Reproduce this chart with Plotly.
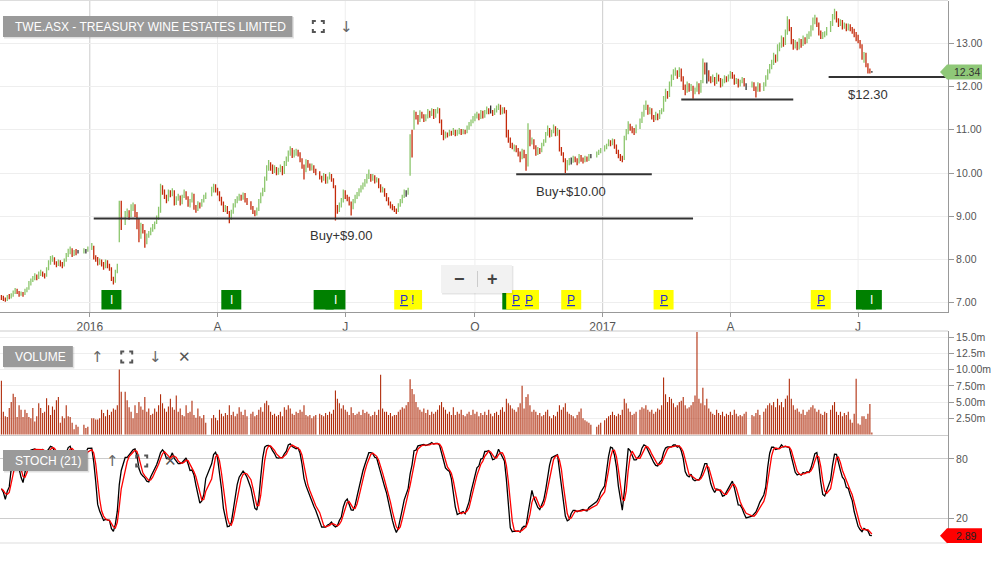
import pandas as pd
import numpy as np
import plotly.graph_objects as go

# ---------------- data ----------------
first_session = "2015-10-30"
last_session = "2017-07-12"
asx_holidays = ["2015-12-25", "2015-12-28", "2016-01-01", "2016-01-26", "2016-03-25", "2016-03-28",
                "2016-04-25", "2016-06-13", "2016-12-26", "2016-12-27", "2017-01-02", "2017-01-26",
                "2017-04-14", "2017-04-17", "2017-04-25", "2017-06-12"]

opens = [
    7.14,
    7.12, 7.10, 7.06, 7.14, 7.12,
    7.18, 7.22, 7.30, 7.25, 7.18,
    7.22, 7.20, 7.28, 7.32, 7.45,
    7.50, 7.56, 7.62, 7.58, 7.66,
    7.70, 7.65, 7.62, 7.78, 7.92,
    7.98, 8.02, 7.92, 7.88, 7.95,
    7.90, 7.86, 7.98, 8.10, 8.18,
    8.22, 8.12, 8.18, 8.16,
    8.16, 8.22, 8.22,
    8.25, 8.30, 8.05, 8.00, 7.92,
    7.96, 7.90, 7.82, 7.95, 7.85,
    7.80, 7.55, 7.48, 7.72, 8.42,
    9.30, 8.85, 9.05, 9.10,
    9.00, 9.20, 9.25, 9.05, 8.88,
    8.50, 8.75, 8.66, 8.40, 8.55,
    8.62, 8.70, 8.78, 8.85, 8.95,
    9.12, 9.65, 9.55, 9.45, 9.38,
    9.55, 9.50, 9.58, 9.30, 9.40,
    9.45, 9.30, 9.45, 9.55, 9.42,
    9.28, 9.35, 9.50, 9.20, 9.15,
    9.30, 9.25, 9.35, 9.45,
    9.50, 9.60, 9.70, 9.62,
    9.55, 9.40, 9.30, 9.15, 9.20,
    9.10, 8.95, 9.10, 9.25, 9.35,
    9.40, 9.45, 9.42, 9.50, 9.38,
    9.32, 9.20, 9.10, 9.05,
    9.15, 9.35, 9.50, 9.60, 9.85,
    10.10, 10.20, 10.15, 10.05, 10.10,
    10.00, 10.05, 10.12, 10.00, 10.20,
    10.30, 10.45, 10.55, 10.40, 10.48,
    10.50, 10.45, 10.30, 10.15, 10.05,
    10.25, 10.18, 10.10, 10.15, 10.05,
    10.00, 9.90, 9.85, 9.95,
    9.80, 9.88, 9.95, 9.85, 9.68,
    9.20, 9.15, 9.25, 9.35, 9.55,
    9.45, 9.40, 9.30, 9.20, 9.35,
    9.45, 9.50, 9.60, 9.68, 9.72,
    9.80, 9.90, 9.95, 9.85, 9.92,
    9.82, 9.85, 9.70, 9.60, 9.62,
    9.50, 9.40, 9.30, 9.25, 9.20,
    9.15, 9.12, 9.25, 9.35, 9.45,
    9.55, 9.55, 9.98, 10.90, 11.05,
    11.35, 11.30, 11.20, 11.38, 11.32,
    11.25, 11.30, 11.40, 11.35, 11.45,
    11.30, 11.42, 11.48, 11.20, 10.95,
    10.85, 10.90, 10.88, 10.95, 10.92,
    10.98, 10.90, 10.95, 11.00, 10.92,
    10.98, 10.95, 11.05, 11.12, 11.18,
    11.25, 11.30, 11.35, 11.28, 11.40,
    11.32, 11.40, 11.48, 11.42, 11.42,
    11.38, 11.45, 11.50, 11.55, 11.40,
    11.48, 11.45, 10.95, 10.78, 10.65,
    10.60, 10.62, 10.55, 10.45, 10.35,
    10.50, 10.40, 10.18, 10.95, 10.70,
    10.75, 10.60, 10.45, 10.55, 10.50,
    10.65, 10.72, 10.90, 11.00, 10.88,
    10.95, 11.05, 10.90, 10.98, 10.55,
    10.45, 10.30, 10.10, 10.25, 10.30,
    10.30, 10.35, 10.30, 10.25, 10.38,
    10.32, 10.28, 10.35, 10.30, 10.40,
    10.40, 10.45, 10.50,
    10.55, 10.60, 10.65, 10.72,
    10.68, 10.75, 10.62, 10.50, 10.40,
    10.35, 10.32, 10.80, 10.95, 11.10,
    11.05, 11.00, 10.95, 11.05,
    11.20, 11.35, 11.50, 11.55, 11.40,
    11.48, 11.30, 11.25, 11.35, 11.28,
    11.40, 11.45, 11.70, 11.85, 11.80,
    12.05, 12.20, 12.30, 12.35, 12.25,
    12.40, 12.20, 12.00, 11.90, 12.05,
    11.95, 12.00, 11.85, 11.92, 12.05,
    11.88, 12.10, 12.50, 12.35, 12.35,
    12.20, 12.15, 12.20, 12.10, 12.25,
    12.18, 12.05, 12.12, 12.20, 12.15,
    12.22, 12.30, 12.25, 12.10, 12.15,
    12.05, 12.12, 12.18, 12.05,
    12.05, 12.08, 11.98, 11.92,
    12.05, 11.95, 12.05, 12.20,
    12.35, 12.45, 12.55, 12.70, 12.62,
    12.90, 12.95, 13.10, 13.00, 13.25,
    13.50, 13.35, 13.05, 12.95, 13.00,
    12.90, 13.05, 12.98, 13.10, 13.05,
    13.15, 13.20, 13.35, 13.50, 13.55,
    13.45, 13.25, 13.15, 13.20, 13.22,
    13.30, 13.45, 13.60, 13.70,
    13.55, 13.45, 13.50, 13.38, 13.42,
    13.35, 13.40, 13.35, 13.30, 13.22,
    13.15, 13.05, 12.95, 12.62, 12.75,
    12.50, 12.35, 12.34,
]

highs = [
    7.18,
    7.16, 7.12, 7.18, 7.20, 7.22,
    7.28, 7.34, 7.32, 7.27, 7.26,
    7.25, 7.32, 7.36, 7.50, 7.56,
    7.62, 7.68, 7.65, 7.72, 7.76,
    7.72, 7.68, 7.82, 7.98, 8.08,
    8.10, 8.05, 7.96, 8.00, 7.98,
    7.94, 8.02, 8.15, 8.25, 8.30,
    8.26, 8.22, 8.24, 8.22,
    8.26, 8.24, 8.30,
    8.38, 8.32, 8.10, 8.06, 8.02,
    8.00, 7.94, 8.00, 7.98, 7.90,
    7.82, 7.60, 7.76, 7.90, 9.36,
    9.36, 9.12, 9.18, 9.14,
    9.28, 9.32, 9.28, 9.10, 8.96,
    8.85, 8.82, 8.68, 8.60, 8.66,
    8.74, 8.82, 8.88, 9.02, 9.22,
    9.75, 9.72, 9.62, 9.50, 9.62,
    9.60, 9.65, 9.60, 9.46, 9.52,
    9.48, 9.50, 9.62, 9.58, 9.46,
    9.40, 9.55, 9.52, 9.26, 9.35,
    9.32, 9.40, 9.50, 9.55,
    9.68, 9.75, 9.74, 9.66,
    9.58, 9.45, 9.34, 9.26, 9.24,
    9.12, 9.15, 9.30, 9.40, 9.46,
    9.52, 9.50, 9.55, 9.54, 9.42,
    9.35, 9.24, 9.14, 9.20,
    9.40, 9.55, 9.66, 9.92, 10.18,
    10.30, 10.25, 10.20, 10.18, 10.14,
    10.12, 10.20, 10.16, 10.28, 10.38,
    10.52, 10.62, 10.58, 10.54, 10.56,
    10.54, 10.48, 10.34, 10.20, 10.32,
    10.30, 10.22, 10.22, 10.18, 10.10,
    10.04, 9.94, 10.00, 9.98,
    9.92, 10.02, 9.98, 9.88, 9.72,
    9.26, 9.32, 9.42, 9.62, 9.60,
    9.50, 9.45, 9.34, 9.40, 9.50,
    9.56, 9.65, 9.72, 9.78, 9.86,
    9.98, 10.08, 9.98, 9.98, 9.95,
    9.90, 9.88, 9.74, 9.68, 9.65,
    9.54, 9.44, 9.34, 9.28, 9.24,
    9.18, 9.30, 9.40, 9.50, 9.62,
    9.60, 9.66, 10.90, 11.00, 11.45,
    11.42, 11.34, 11.45, 11.42, 11.36,
    11.36, 11.48, 11.44, 11.50, 11.48,
    11.48, 11.52, 11.50, 11.24, 11.00,
    10.96, 10.94, 11.00, 10.98, 11.04,
    11.00, 11.00, 11.04, 11.02, 11.02,
    11.00, 11.10, 11.18, 11.24, 11.32,
    11.38, 11.42, 11.38, 11.46, 11.44,
    11.46, 11.54, 11.50, 11.56, 11.46,
    11.50, 11.56, 11.60, 11.58, 11.52,
    11.52, 11.46, 11.00, 10.82, 10.70,
    10.66, 10.64, 10.58, 10.50, 10.56,
    10.54, 10.44, 11.15, 11.00, 10.82,
    10.78, 10.64, 10.60, 10.58, 10.70,
    10.78, 10.95, 11.10, 11.04, 11.00,
    11.12, 11.08, 11.04, 11.00, 10.60,
    10.48, 10.34, 10.30, 10.35, 10.36,
    10.40, 10.38, 10.34, 10.44, 10.42,
    10.36, 10.40, 10.38, 10.44, 10.44,
    10.50, 10.54, 10.58,
    10.64, 10.68, 10.78, 10.76,
    10.80, 10.78, 10.66, 10.54, 10.44,
    10.40, 10.86, 11.02, 11.20, 11.14,
    11.08, 11.04, 11.12, 11.26,
    11.42, 11.58, 11.68, 11.58, 11.52,
    11.50, 11.34, 11.42, 11.38, 11.46,
    11.50, 11.78, 11.95, 11.90, 12.12,
    12.28, 12.40, 12.44, 12.38, 12.45,
    12.42, 12.24, 12.05, 12.12, 12.08,
    12.06, 12.02, 11.98, 12.12, 12.08,
    12.15, 12.65, 12.56, 12.56, 12.38,
    12.24, 12.28, 12.22, 12.32, 12.28,
    12.20, 12.18, 12.26, 12.24, 12.28,
    12.36, 12.34, 12.28, 12.20, 12.18,
    12.16, 12.22, 12.20, 12.08,
    12.12, 12.10, 12.00, 12.10,
    12.08, 12.10, 12.26, 12.40,
    12.52, 12.62, 12.78, 12.74, 12.98,
    13.02, 13.18, 13.14, 13.32, 13.63,
    13.56, 13.38, 13.10, 13.08, 13.04,
    13.12, 13.10, 13.18, 13.14, 13.22,
    13.28, 13.42, 13.60, 13.66, 13.60,
    13.48, 13.30, 13.26, 13.28, 13.38,
    13.52, 13.68, 13.80, 13.74,
    13.58, 13.56, 13.54, 13.48, 13.46,
    13.46, 13.44, 13.38, 13.34, 13.26,
    13.20, 13.08, 12.98, 12.80, 12.78,
    12.54, 12.42, 12.36,
]

lows = [
    7.06,
    7.04, 7.02, 7.04, 7.08, 7.10,
    7.14, 7.20, 7.20, 7.14, 7.16,
    7.14, 7.18, 7.24, 7.30, 7.40,
    7.48, 7.52, 7.52, 7.55, 7.62,
    7.60, 7.56, 7.60, 7.75, 7.88,
    7.95, 7.88, 7.82, 7.85, 7.84,
    7.80, 7.84, 7.95, 8.06, 8.12,
    8.06, 8.08, 8.10, 8.14,
    8.14, 8.14, 8.18,
    8.22, 8.00, 7.95, 7.86, 7.88,
    7.84, 7.76, 7.80, 7.80, 7.74,
    7.50, 7.42, 7.46, 7.68, 8.40,
    8.68, 8.80, 8.98, 8.92,
    8.98, 9.12, 8.98, 8.70, 8.40,
    8.48, 8.60, 8.27, 8.35, 8.50,
    8.56, 8.64, 8.70, 8.82, 8.92,
    9.08, 9.50, 9.40, 9.30, 9.35,
    9.44, 9.46, 9.25, 9.26, 9.36,
    9.25, 9.28, 9.42, 9.38, 9.22,
    9.20, 9.32, 9.15, 9.08, 9.12,
    9.18, 9.22, 9.32, 9.40,
    9.46, 9.55, 9.55, 9.48,
    9.35, 9.25, 9.10, 9.10, 9.05,
    8.84, 8.92, 9.06, 9.20, 9.30,
    9.36, 9.36, 9.38, 9.32, 9.26,
    9.15, 9.05, 9.00, 9.02,
    9.12, 9.30, 9.46, 9.56, 9.82,
    10.05, 10.05, 9.98, 10.00, 9.95,
    9.96, 10.02, 9.95, 9.98, 10.16,
    10.26, 10.40, 10.35, 10.36, 10.40,
    10.38, 10.25, 10.10, 9.85, 10.02,
    10.12, 10.05, 10.06, 10.00, 9.95,
    9.85, 9.78, 9.82, 9.75,
    9.76, 9.85, 9.80, 9.65, 8.90,
    9.06, 9.10, 9.20, 9.32, 9.40,
    9.35, 9.25, 9.02, 9.16, 9.30,
    9.40, 9.46, 9.55, 9.62, 9.68,
    9.76, 9.86, 9.80, 9.82, 9.76,
    9.78, 9.65, 9.55, 9.55, 9.45,
    9.35, 9.25, 9.18, 9.14, 9.10,
    9.05, 9.10, 9.22, 9.30, 9.42,
    9.45, 9.50, 9.94, 10.36, 11.00,
    11.24, 11.12, 11.18, 11.26, 11.18,
    11.20, 11.26, 11.28, 11.32, 11.25,
    11.28, 11.38, 11.15, 10.88, 10.76,
    10.80, 10.82, 10.85, 10.86, 10.88,
    10.85, 10.86, 10.90, 10.88, 10.90,
    10.90, 10.92, 11.00, 11.08, 11.15,
    11.20, 11.26, 11.22, 11.25, 11.26,
    11.28, 11.36, 11.36, 11.38, 11.32,
    11.34, 11.40, 11.46, 11.35, 11.36,
    11.38, 10.82, 10.70, 10.58, 10.55,
    10.50, 10.48, 10.38, 10.25, 10.32,
    10.34, 10.05, 10.15, 10.62, 10.66,
    10.55, 10.40, 10.42, 10.44, 10.48,
    10.62, 10.70, 10.86, 10.82, 10.84,
    10.92, 10.85, 10.86, 10.50, 10.40,
    10.25, 10.00, 10.06, 10.18, 10.20,
    10.24, 10.25, 10.18, 10.22, 10.26,
    10.22, 10.25, 10.26, 10.28, 10.34,
    10.36, 10.42, 10.46,
    10.50, 10.55, 10.62, 10.62,
    10.64, 10.56, 10.44, 10.34, 10.28,
    10.25, 10.30, 10.76, 10.90, 10.98,
    10.92, 10.88, 10.92, 11.02,
    11.16, 11.30, 11.46, 11.35, 11.36,
    11.24, 11.18, 11.22, 11.22, 11.25,
    11.36, 11.42, 11.65, 11.72, 11.76,
    12.00, 12.15, 12.25, 12.18, 12.22,
    12.12, 11.92, 11.80, 11.86, 11.88,
    11.90, 11.72, 11.82, 11.88, 11.82,
    11.86, 12.08, 12.28, 12.07, 12.12,
    12.08, 12.10, 12.02, 12.06, 12.12,
    11.98, 12.00, 12.08, 12.10, 12.12,
    12.18, 12.18, 12.04, 12.06, 11.98,
    12.00, 12.08, 12.00, 11.92,
    11.98, 11.90, 11.75, 11.88,
    11.88, 11.90, 12.00, 12.16,
    12.30, 12.40, 12.50, 12.55, 12.58,
    12.82, 12.90, 12.92, 12.96, 13.20,
    13.28, 12.98, 12.85, 12.88, 12.84,
    12.86, 12.90, 12.94, 12.98, 13.00,
    13.10, 13.16, 13.30, 13.44, 13.38,
    13.18, 13.10, 13.10, 13.14, 13.18,
    13.26, 13.40, 13.55, 13.48,
    13.38, 13.40, 13.32, 13.34, 13.28,
    13.30, 13.28, 13.22, 13.14, 13.05,
    13.00, 12.88, 12.62, 12.55, 12.45,
    12.30, 12.30, 12.32,
]

closes = [
    7.12,
    7.10, 7.06, 7.14, 7.12, 7.18,
    7.22, 7.30, 7.25, 7.18, 7.22,
    7.20, 7.28, 7.32, 7.45, 7.50,
    7.56, 7.62, 7.58, 7.66, 7.70,
    7.65, 7.62, 7.78, 7.92, 7.98,
    8.02, 7.92, 7.88, 7.95, 7.90,
    7.86, 7.98, 8.10, 8.18, 8.22,
    8.12, 8.18, 8.15, 8.16,
    8.22, 8.22, 8.25,
    8.30, 8.05, 8.00, 7.92, 7.96,
    7.90, 7.82, 7.95, 7.85, 7.80,
    7.55, 7.48, 7.72, 7.85, 9.10,
    8.85, 9.05, 9.10, 9.00,
    9.20, 9.25, 9.05, 8.80, 8.50,
    8.75, 8.66, 8.40, 8.55, 8.62,
    8.70, 8.78, 8.85, 8.95, 9.15,
    9.65, 9.55, 9.45, 9.38, 9.55,
    9.50, 9.58, 9.30, 9.40, 9.45,
    9.30, 9.45, 9.55, 9.42, 9.28,
    9.35, 9.50, 9.20, 9.15, 9.30,
    9.25, 9.35, 9.45, 9.50,
    9.60, 9.70, 9.62, 9.55,
    9.40, 9.30, 9.15, 9.20, 9.10,
    8.95, 9.10, 9.25, 9.35, 9.40,
    9.45, 9.42, 9.50, 9.38, 9.32,
    9.20, 9.10, 9.05, 9.15,
    9.35, 9.50, 9.60, 9.85, 10.10,
    10.20, 10.15, 10.05, 10.10, 10.00,
    10.05, 10.12, 10.00, 10.20, 10.30,
    10.45, 10.55, 10.40, 10.48, 10.50,
    10.45, 10.30, 10.15, 10.05, 10.25,
    10.18, 10.10, 10.15, 10.05, 10.00,
    9.90, 9.85, 9.95, 9.80,
    9.88, 9.95, 9.85, 9.70, 9.20,
    9.15, 9.25, 9.35, 9.55, 9.45,
    9.40, 9.30, 9.20, 9.35, 9.45,
    9.50, 9.60, 9.68, 9.72, 9.80,
    9.90, 9.95, 9.85, 9.92, 9.82,
    9.85, 9.70, 9.60, 9.62, 9.50,
    9.40, 9.30, 9.25, 9.20, 9.15,
    9.12, 9.25, 9.35, 9.45, 9.55,
    9.55, 9.60, 10.75, 10.55, 11.35,
    11.30, 11.20, 11.38, 11.32, 11.25,
    11.30, 11.40, 11.35, 11.45, 11.30,
    11.42, 11.48, 11.20, 10.95, 10.85,
    10.90, 10.88, 10.95, 10.92, 10.98,
    10.90, 10.95, 11.00, 10.92, 10.98,
    10.95, 11.05, 11.12, 11.18, 11.25,
    11.30, 11.35, 11.28, 11.40, 11.32,
    11.40, 11.48, 11.42, 11.42, 11.38,
    11.45, 11.50, 11.55, 11.40, 11.48,
    11.45, 10.95, 10.78, 10.65, 10.60,
    10.62, 10.55, 10.45, 10.35, 10.50,
    10.40, 10.15, 10.95, 10.70, 10.75,
    10.60, 10.45, 10.55, 10.50, 10.65,
    10.72, 10.90, 11.00, 10.88, 10.95,
    11.05, 10.90, 10.98, 10.55, 10.45,
    10.30, 10.10, 10.25, 10.30, 10.30,
    10.35, 10.30, 10.25, 10.38, 10.32,
    10.28, 10.35, 10.30, 10.40, 10.40,
    10.45, 10.50, 10.55,
    10.60, 10.65, 10.72, 10.68,
    10.75, 10.62, 10.50, 10.40, 10.35,
    10.32, 10.80, 10.95, 11.10, 11.05,
    11.00, 10.95, 11.05, 11.20,
    11.35, 11.50, 11.55, 11.40, 11.48,
    11.30, 11.25, 11.35, 11.28, 11.40,
    11.45, 11.70, 11.85, 11.80, 12.05,
    12.20, 12.30, 12.35, 12.25, 12.40,
    12.20, 12.00, 11.90, 12.05, 11.95,
    12.00, 11.85, 11.92, 12.05, 11.88,
    12.10, 12.50, 12.35, 12.35, 12.20,
    12.15, 12.20, 12.10, 12.25, 12.18,
    12.05, 12.12, 12.20, 12.15, 12.22,
    12.30, 12.25, 12.10, 12.15, 12.05,
    12.12, 12.18, 12.05, 12.05,
    12.08, 11.98, 11.92, 12.05,
    11.95, 12.05, 12.20, 12.35,
    12.45, 12.55, 12.70, 12.62, 12.90,
    12.95, 13.10, 13.00, 13.25, 13.50,
    13.35, 13.05, 12.95, 13.00, 12.90,
    13.05, 12.98, 13.10, 13.05, 13.15,
    13.20, 13.35, 13.50, 13.55, 13.45,
    13.25, 13.15, 13.20, 13.22, 13.30,
    13.45, 13.60, 13.70, 13.55,
    13.45, 13.50, 13.38, 13.42, 13.35,
    13.40, 13.35, 13.30, 13.22, 13.15,
    13.05, 12.95, 12.70, 12.75, 12.50,
    12.35, 12.34, 12.34,
]

volumes_m = [
    8.3,
    3.5, 2.8, 2.7, 4.1, 5.0,
    6.3, 5.8, 2.7, 4.5, 3.8,
    2.7, 3.8, 3.3, 2.7, 2.5,
    4.1, 2.0, 2.8, 4.8, 4.1,
    3.3, 3.5, 5.6, 4.5, 3.0,
    4.3, 3.8, 5.3, 5.8, 1.8,
    2.8, 2.5, 4.5, 2.8, 2.7,
    1.8, 0.8, 1.5, 1.2,
    1.5, 1.0, 1.2,
    2.5, 2.5, 2.3, 2.3, 2.5,
    3.8, 3.3, 2.8, 3.8, 3.0,
    3.5, 4.0, 3.8, 4.5, 10.0,
    6.6, 6.6, 5.3, 4.2,
    3.5, 2.5, 4.5, 3.3, 5.0,
    4.3, 3.8, 5.8, 3.5, 4.0,
    3.0, 3.2, 4.0, 3.5, 4.5,
    6.2, 4.8, 4.0, 3.5, 4.3,
    5.5, 4.2, 3.8, 6.0, 3.5,
    4.0, 3.0, 2.8, 4.5, 3.3,
    3.5, 5.2, 3.0, 2.6, 4.0,
    2.8, 2.5, 3.0, 1.8,
    2.5, 3.0, 2.6, 2.2,
    3.8, 3.2, 2.8, 3.3, 3.0,
    4.5, 3.0, 3.5, 2.8, 3.2,
    4.2, 3.5, 3.0, 3.8, 2.8,
    3.2, 3.5, 2.8, 3.0,
    3.8, 4.2, 3.5, 4.8, 5.2,
    4.5, 3.5, 3.0, 3.2, 2.8,
    3.0, 3.5, 2.8, 4.2, 3.8,
    4.5, 4.0, 3.2, 3.0, 3.5,
    3.3, 3.8, 3.5, 4.5, 3.0,
    2.8, 3.0, 2.5, 2.8, 3.0,
    3.2, 3.0, 2.8, 3.3,
    3.0, 3.5, 3.2, 3.8, 6.8,
    5.5, 4.8, 4.0, 4.5, 3.8,
    3.5, 3.0, 4.2, 3.3, 3.0,
    3.2, 3.5, 3.0, 3.8, 3.3,
    3.5, 3.2, 2.8, 3.0, 3.5,
    3.0, 3.8, 9.2, 4.0, 3.5,
    3.5, 3.0, 3.3, 2.8, 3.0,
    3.0, 3.5, 3.8, 4.2, 4.0,
    4.5, 5.0, 8.5, 7.0, 6.2,
    5.0, 4.2, 3.8, 3.5, 4.0,
    3.3, 3.8, 3.0, 3.5, 3.2,
    3.5, 3.8, 4.5, 5.0, 4.2,
    3.8, 3.2, 3.5, 3.0, 4.2,
    3.0, 3.5, 3.2, 3.8, 3.0,
    2.8, 3.2, 3.5, 3.0, 3.8,
    3.2, 3.5, 2.8, 3.3, 3.0,
    3.5, 3.0, 3.8, 3.2, 2.8,
    3.3, 3.5, 3.0, 3.8, 4.2,
    3.5, 5.5, 4.8, 4.5, 4.0,
    3.8, 3.5, 4.2, 4.8, 7.5,
    4.0, 5.8, 6.2, 4.5, 3.5,
    3.8, 3.5, 3.0, 3.3, 2.8,
    3.0, 3.5, 3.8, 2.8, 2.5,
    3.0, 2.8, 3.5, 4.5, 3.8,
    4.2, 4.8, 3.5, 3.2, 3.0,
    2.8, 2.5, 3.0, 3.5, 4.0,
    2.5, 2.2, 2.0, 1.8, 1.5,
    1.2, 1.5, 1.8,
    2.2, 2.5, 2.8, 3.0,
    3.5, 3.0, 2.8, 3.2, 3.0,
    3.8, 5.5, 4.8, 4.0, 3.5,
    3.0, 3.2, 3.5, 3.8,
    4.2, 4.0, 4.5, 3.8, 3.5,
    3.8, 3.2, 3.5, 4.0, 3.8,
    4.5, 8.8, 6.2, 5.0, 5.8,
    5.5, 4.8, 4.2, 4.5, 5.0,
    5.2, 5.8, 4.5, 4.0, 4.2,
    4.5, 5.0, 6.0, 15.8, 5.5,
    4.8, 7.2, 4.5, 5.5, 4.0,
    3.5, 3.2, 3.0, 3.8, 3.3,
    3.0, 3.5, 2.8, 3.2, 3.0,
    3.5, 3.0, 3.8, 3.2, 2.8,
    3.0, 2.8, 3.2, 3.5,
    3.0, 2.8, 3.3, 3.8,
    3.0, 3.5, 4.0, 4.5,
    4.8, 4.5, 5.0, 4.2, 5.5,
    4.5, 5.0, 4.2, 5.5, 6.0,
    8.6, 5.5, 4.5, 3.8, 4.0,
    3.5, 3.2, 3.8, 3.0, 3.5,
    3.8, 4.2, 4.5, 4.0, 3.5,
    3.8, 3.2, 3.0, 3.5, 3.3,
    3.8, 4.5, 5.0, 3.5,
    3.0, 3.5, 2.8, 3.3, 3.0,
    3.5, 2.3, 1.8, 3.2, 8.6,
    1.7, 1.5, 2.8, 2.8, 2.4,
    3.2, 4.7, 0.3,
]

tick_dates = ["2016-01-01", "2016-04-01", "2016-07-01", "2016-10-03", "2017-01-02", "2017-04-03", "2017-07-03"]
tick_labels = ["2016", "A", "J", "O", "2017", "A", "J"]
year_tick_dates = ["2016-01-01", "2017-01-02"]
price_ticks = [7, 8, 9, 10, 11, 12, 13]
vol_ticks = [2.5, 5.0, 7.5, 10.0, 12.5, 15.0]
vol_tick_labels = ["2.50m", "5.00m", "7.50m", "10.00m", "12.5m", "15.0m"]
stoch_ticks = [20, 80]
stoch_period = 21
stoch_smooth = 3

# drawn support lines and their labels
sr_starts = ["2016-01-05", "2016-11-01", "2017-02-27", "2017-06-12"]
sr_ends = ["2017-03-07", "2017-02-06", "2017-05-17", "2017-09-04 18:00"]
sr_prices = [8.95, 9.97, 11.70, 12.22]
sr_label_dates = ["2016-06-29", "2016-12-09", None, "2017-07-10"]
sr_labels = ["Buy+$9.00", "Buy+$10.00", "", "$12.30"]

# announcement flags
flag_dates = ["2016-01-18", "2016-04-12", "2016-06-16", "2016-06-24", "2016-08-18", "2016-08-12",
              "2016-10-28", "2016-11-01", "2016-11-09 12:00", "2016-12-09", "2017-02-14", "2017-06-06",
              "2017-07-07", "2017-07-12"]
flag_kinds = ["I", "I", "I", "I", "P", "P", "I", "P", "P", "P", "P", "P", "I", "I"]
flag_texts = ["I", "I", "", "I", "!", "P", "", "P", "P", "P", "P", "P", "", "I"]

title_text = "TWE.ASX - TREASURY WINE ESTATES LIMITED"

# ---------------- build frame ----------------
dates = pd.bdate_range(first_session, last_session)
dates = dates[~dates.isin(pd.to_datetime(asx_holidays))]
n = len(dates)
for nm, arr in [("opens", opens), ("highs", highs), ("lows", lows), ("closes", closes), ("volumes", volumes_m)]:
    assert len(arr) == n, f"{nm} has {len(arr)} values, expected {n}"

df = pd.DataFrame({"o": opens, "h": highs, "l": lows, "c": closes, "v": volumes_m}, index=dates)

# slow stochastic (21, 3, 3)
ll = df["l"].rolling(stoch_period, min_periods=1).min()
hh = df["h"].rolling(stoch_period, min_periods=1).max()
raw_k = (100 * (df["c"] - ll) / (hh - ll)).fillna(50)
pct_k = raw_k.rolling(stoch_smooth, min_periods=1).mean()
pct_d = pct_k.rolling(stoch_smooth, min_periods=1).mean()

W, H = 991, 564
PLOT_W = 950.0


def px(x):
    return x / PLOT_W


def py(y):
    return 1 - y / H


X_RANGE = ["2015-10-29 07:00", "2017-09-04 18:00"]
RB = [dict(bounds=["sat", "mon"])]

UP = "#8cc66d"
DN = "#c42a0b"
FLAT = "#333333"
VOLC = "#b02c0b"

fig = go.Figure()

moving = df[df["c"] != df["o"]]
fig.add_trace(go.Ohlc(
    x=moving.index, open=moving["o"], high=moving["h"], low=moving["l"], close=moving["c"],
    increasing=dict(line=dict(color=UP, width=1.3)),
    decreasing=dict(line=dict(color=DN, width=1.3)),
    tickwidth=0.25, xaxis="x", yaxis="y", hoverinfo="skip"))

flat = df[df["c"] == df["o"]]
fx, fy = [], []
for d, r in flat.iterrows():
    fx += [d, d, None]
    fy += [r["l"], r["h"], None]
fig.add_trace(go.Scatter(x=fx, y=fy, mode="lines", line=dict(color=FLAT, width=1.3),
                         xaxis="x", yaxis="y", hoverinfo="skip"))

# volume as thin vertical bars
vx, vy = [], []
for d, v in df["v"].items():
    vx += [d, d, None]
    vy += [0, v, None]
fig.add_trace(go.Scatter(x=vx, y=vy, mode="lines", line=dict(color=VOLC, width=1.1),
                         xaxis="x2", yaxis="y2", hoverinfo="skip"))

fig.add_trace(go.Scatter(x=df.index, y=pct_k, mode="lines", line=dict(color="#000000", width=1.3),
                         xaxis="x3", yaxis="y3", hoverinfo="skip"))
fig.add_trace(go.Scatter(x=df.index, y=pct_d, mode="lines", line=dict(color="#ff0000", width=1.3),
                         xaxis="x3", yaxis="y3", hoverinfo="skip"))

PRICE_DOM = [py(312), py(1)]
VOL_DOM = [py(435.5), py(331)]
STO_DOM = [py(543), py(435.5)]

axis_font = dict(family="Arial, Liberation Sans, sans-serif", size=10.5, color="#555555")
common_y = dict(side="right", showline=True, linecolor="#999999", linewidth=1, ticks="outside",
                ticklen=5, tickcolor="#999999", tickfont=axis_font, zeroline=False, fixedrange=True)

fig.update_layout(
    width=W, height=H, margin=dict(l=0, r=41, t=0, b=0),
    paper_bgcolor="white", plot_bgcolor="white", showlegend=False,
    font=dict(family="Arial, Liberation Sans, sans-serif"),
    xaxis=dict(domain=[0, 1], anchor="y", range=X_RANGE, rangebreaks=RB,
               tickvals=tick_dates, ticktext=tick_labels, showgrid=False,
               showline=True, linecolor="#999999", ticks="outside", ticklen=4, tickcolor="#999999",
               tickfont=dict(family="Arial, Liberation Sans, sans-serif", size=12, color="#555555"),
               rangeslider=dict(visible=False)),
    xaxis2=dict(domain=[0, 1], anchor="y2", range=X_RANGE, rangebreaks=RB, showticklabels=False,
                showgrid=False, showline=False, ticks=""),
    xaxis3=dict(domain=[0, 1], anchor="y3", range=X_RANGE, rangebreaks=RB, showticklabels=False,
                showgrid=False, showline=False, ticks=""),
    yaxis=dict(domain=PRICE_DOM, anchor="x", range=[6.785, 13.98], tickvals=price_ticks,
               tickformat=".2f", showgrid=True, gridcolor="#eeeeee", **common_y),
    yaxis2=dict(domain=VOL_DOM, anchor="x2", range=[-0.15, 15.95], tickvals=vol_ticks,
                ticktext=vol_tick_labels, showgrid=True, gridcolor="#eeeeee", **common_y),
    yaxis3=dict(domain=STO_DOM, anchor="x3", range=[-4.5, 103.5], tickvals=stoch_ticks,
                showgrid=True, gridcolor="#cccccc", **common_y),
)

shapes = []
annotations = []

# vertical grid lines in price panel
for d in tick_dates:
    col = "#cccccc" if d in year_tick_dates else "#eeeeee"
    shapes.append(dict(type="line", xref="x", yref="paper", x0=d, x1=d, y0=PRICE_DOM[0], y1=PRICE_DOM[1],
                       line=dict(color=col, width=1), layer="below"))

# panel separators
for yy, col in [(0.5, "#dddddd"), (331, "#cccccc"), (435.5, "#cccccc"), (543, "#dddddd")]:
    shapes.append(dict(type="line", xref="paper", yref="paper", x0=0, x1=1, y0=py(yy), y1=py(yy),
                       line=dict(color=col, width=1), layer="above"))

# support / resistance lines
for s, e, p, ld, lt in zip(sr_starts, sr_ends, sr_prices, sr_label_dates, sr_labels):
    shapes.append(dict(type="line", xref="x", yref="y", x0=s, x1=e, y0=p, y1=p,
                       line=dict(color="#333333", width=2), layer="above"))
    if lt:
        annotations.append(dict(x=ld, y=p, xref="x", yref="y", text=lt, showarrow=False, yshift=-17,
                                font=dict(size=13, color="#333333"), xanchor="center", yanchor="middle"))

# announcement flags
for d, k, t in zip(flag_dates, flag_kinds, flag_texts):
    fill = "#008000" if k == "I" else "#ffff00"
    shapes.append(dict(type="rect", xref="x", yref="paper", xsizemode="pixel", xanchor=d, x0=-10, x1=10,
                       y0=py(309.5), y1=py(290), fillcolor=fill, line=dict(width=0), layer="above"))
    if t:
        if k == "I":
            txt, colr = t, "#ffffff"
        else:
            txt, colr = ("<u>P</u>" if t == "P" else t), "#1f2fd0"
        annotations.append(dict(x=d, y=py(300), xref="x", yref="paper", text=txt, showarrow=False,
                                font=dict(size=12, color=colr), xanchor="center", yanchor="middle"))

# last price tag
last_close = float(df["c"].iloc[-1])
tag_path = "M-8,0 L-1,7.5 L34,7.5 L34,-7.5 L-1,-7.5 Z"
shapes.append(dict(type="path", xref="paper", yref="y", xsizemode="pixel", ysizemode="pixel",
                   xanchor=1, yanchor=last_close, path=tag_path, fillcolor="#8fc878",
                   line=dict(width=0), layer="above"))
annotations.append(dict(x=1, y=last_close, xref="paper", yref="y", xshift=19, text=f"{last_close:.2f}",
                        showarrow=False, font=dict(size=10.5, color="#333333"), xanchor="center"))

last_k = float(pct_k.iloc[-1])
shapes.append(dict(type="path", xref="paper", yref="y3", xsizemode="pixel", ysizemode="pixel",
                   xanchor=1, yanchor=last_k, path=tag_path, fillcolor="#ff0000",
                   line=dict(width=0), layer="above"))
annotations.append(dict(x=1, y=last_k, xref="paper", yref="y3", xshift=18, text=f"{last_k:.2f}",
                        showarrow=False, font=dict(size=10.5, color="#222222"), xanchor="center"))


# ---- panel title boxes & icons ----
def box(x0, y0, x1, y1, color, shadow=True):
    if shadow:
        shapes.append(dict(type="rect", xref="paper", yref="paper", x0=px(x0 + 1), x1=px(x1 + 1.5),
                           y0=py(y1 + 1.5), y1=py(y0 + 1), fillcolor="rgba(0,0,0,0.12)",
                           line=dict(width=0), layer="above"))
    shapes.append(dict(type="rect", xref="paper", yref="paper", x0=px(x0), x1=px(x1), y0=py(y1), y1=py(y0),
                       fillcolor=color, line=dict(width=0), layer="above"))


def label(x, y, text, size=12, color="#ffffff", anchor="left", family=None):
    f = dict(size=size, color=color)
    if family:
        f["family"] = family
    annotations.append(dict(x=px(x), y=py(y), xref="paper", yref="paper", text=text, showarrow=False,
                            font=f, xanchor=anchor, yanchor="middle"))


def fullscreen(cx, cy, s=5.5, a=3.0):
    pts = [
        [(cx - s, cy - s + a), (cx - s, cy - s), (cx - s + a, cy - s)],
        [(cx + s - a, cy - s), (cx + s, cy - s), (cx + s, cy - s + a)],
        [(cx - s, cy + s - a), (cx - s, cy + s), (cx - s + a, cy + s)],
        [(cx + s - a, cy + s), (cx + s, cy + s), (cx + s, cy + s - a)],
    ]
    path = ""
    for seg in pts:
        path += "M{:.5f},{:.5f} ".format(px(seg[0][0]), py(seg[0][1]))
        for p in seg[1:]:
            path += "L{:.5f},{:.5f} ".format(px(p[0]), py(p[1]))
    shapes.append(dict(type="path", xref="paper", yref="paper", path=path,
                       line=dict(color="#555555", width=2), layer="above"))


ICON = "#666666"
SYM = "DejaVu Sans, sans-serif"

box(3, 16, 293, 37, "#9a9a9a")
label(13, 26.5, title_text, 12)
fullscreen(319, 26.5)
label(347, 27, "↓", 15, ICON, "center", SYM)

box(3, 346, 73, 367, "#9a9a9a")
label(13, 356.5, "VOLUME", 12)
label(98, 357, "↑", 15, ICON, "center", SYM)
fullscreen(127, 357)
label(156, 357, "↓", 15, ICON, "center", SYM)
label(185, 357, "✕", 15, "#555555", "center", SYM)

box(3, 450, 88, 471, "#9a9a9a")
label(13, 460.5, "STOCH (21)", 12)
label(113, 461, "↑", 15, ICON, "center", SYM)
fullscreen(142, 461)
label(171, 461, "✕", 15, "#555555", "center", SYM)

# zoom control
shapes.append(dict(type="rect", xref="paper", yref="paper", x0=px(443), x1=px(514.5), y0=py(294.5),
                   y1=py(266), fillcolor="rgba(0,0,0,0.10)", line=dict(width=0), layer="above"))
shapes.append(dict(type="rect", xref="paper", yref="paper", x0=px(442), x1=px(513), y0=py(293),
                   y1=py(265), fillcolor="#f2f2f2", line=dict(width=0), layer="above"))
shapes.append(dict(type="line", xref="paper", yref="paper", x0=px(478.5), x1=px(478.5), y0=py(287),
                   y1=py(271), line=dict(color="#cccccc", width=1), layer="above"))
label(460, 279, "<b>−</b>", 18, "#444444", "center")
label(494, 279, "<b>+</b>", 18, "#444444", "center")

fig.update_layout(shapes=shapes, annotations=annotations)
fig.write_html("out.html")
